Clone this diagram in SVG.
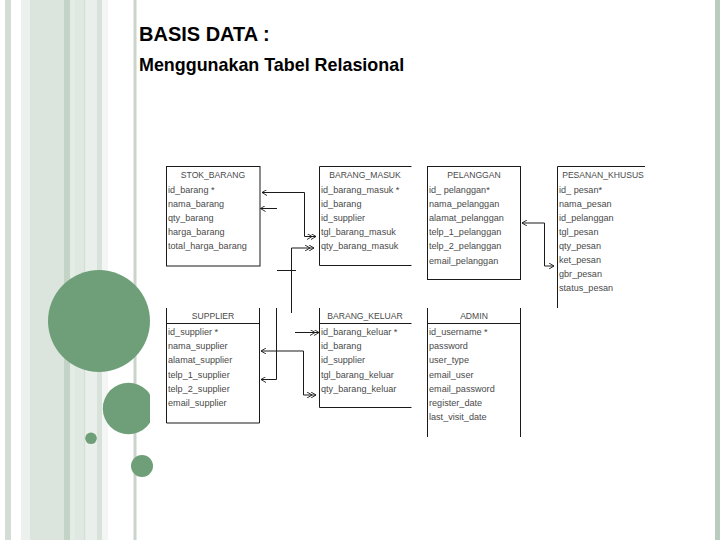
<svg xmlns="http://www.w3.org/2000/svg" width="720" height="540" viewBox="0 0 720 540">
<style>
.title{font-family:"Liberation Sans",Arial,sans-serif;font-weight:bold;fill:#000}
.hd{font-family:"Liberation Sans",Arial,sans-serif;font-size:8.6px;fill:#4a4a4a;text-anchor:middle}
.rw{font-family:"Liberation Sans",Arial,sans-serif;font-size:9.1px;fill:#4a4a4a}
.box{fill:none;stroke:#1a1a1a;stroke-width:1}
.con{fill:none;stroke:#1a1a1a;stroke-width:1}
.dot{fill:#6f9f78}
</style>
<defs>
<marker id="chev" viewBox="0 0 6 6" refX="5" refY="3" markerWidth="6" markerHeight="6" markerUnits="userSpaceOnUse" orient="auto-start-reverse">
<path d="M0,0 L5,3 L0,6" fill="none" stroke="#1a1a1a" stroke-width="0.9"/>
</marker>
<marker id="dchev" viewBox="0 0 10 6" refX="9" refY="3" markerWidth="10" markerHeight="6" markerUnits="userSpaceOnUse" orient="auto-start-reverse">
<path d="M0,0 L5,3 L0,6 M4,0 L9,3 L4,6" fill="none" stroke="#1a1a1a" stroke-width="0.9"/>
</marker>
<clipPath id="clipL"><rect x="0" y="0" width="150" height="540"/></clipPath>
</defs>
<rect x="0" y="0" width="720" height="540" fill="#fff"/>
<g id="background">
<rect x="5" y="0" width="6" height="540" fill="#d3ddd5"/>
<rect x="21" y="0" width="9" height="540" fill="#ecf1ed"/>
<rect x="30" y="0" width="34" height="540" fill="#dbe5dd"/>
<rect x="64" y="0" width="6" height="540" fill="#c3d4c6"/>
<rect x="70" y="0" width="5" height="540" fill="#e4ece6"/>
<rect x="75" y="0" width="10" height="540" fill="#dfe8e1"/>
<rect x="84.5" y="0" width="1" height="540" fill="#c9d4cb"/>
<rect x="85.5" y="0" width="11.5" height="540" fill="#e9efea"/>
<rect x="97" y="0" width="5" height="540" fill="#d8e2da"/>
<rect x="102" y="0" width="6" height="540" fill="#f3f6f4"/>
<rect x="133.5" y="0" width="3" height="540" fill="#cbd3cd"/>
<rect x="715" y="0" width="5" height="540" fill="#b9cdbf"/>
<circle class="dot" cx="99" cy="321" r="51"/>
<circle class="dot" cx="128.5" cy="408.5" r="25.7" clip-path="url(#clipL)"/>
<circle class="dot" cx="91" cy="438.3" r="5.8"/>
<circle class="dot" cx="142" cy="466" r="11"/>
</g>
<g id="titles">
<text class="title" x="139" y="41" font-size="20">BASIS DATA :</text>
<text class="title" x="139" y="70.5" font-size="17.9">Menggunakan Tabel Relasional</text>
</g>
<g id="stok_barang">
<rect class="box" x="166.5" y="166.5" width="93.5" height="99.5"/>
<text class="hd" x="213" y="178">STOK_BARANG</text>
<text class="rw" x="168" y="192.5">id_barang *</text>
<text class="rw" x="168" y="206.7">nama_barang</text>
<text class="rw" x="168" y="220.9">qty_barang</text>
<text class="rw" x="168" y="235.1">harga_barang</text>
<text class="rw" x="168" y="249.3">total_harga_barang</text>
</g>
<g id="barang_masuk">
<path class="box" d="M411.5,166.5 H319.5 V265.5 H411.5"/>
<text class="hd" x="365" y="178">BARANG_MASUK</text>
<text class="rw" x="321" y="192.5">id_barang_masuk *</text>
<text class="rw" x="321" y="206.7">id_barang</text>
<text class="rw" x="321" y="220.9">id_supplier</text>
<text class="rw" x="321" y="235.1">tgl_barang_masuk</text>
<text class="rw" x="321" y="249.3">qty_barang_masuk</text>
</g>
<g id="pelanggan">
<rect class="box" x="427.5" y="166.5" width="93" height="113"/>
<text class="hd" x="474" y="178">PELANGGAN</text>
<text class="rw" x="429" y="192.5">id_ pelanggan*</text>
<text class="rw" x="429" y="206.7">nama_pelanggan</text>
<text class="rw" x="429" y="220.9">alamat_pelanggan</text>
<text class="rw" x="429" y="235.1">telp_1_pelanggan</text>
<text class="rw" x="429" y="249.3">telp_2_pelanggan</text>
<text class="rw" x="429" y="263.5">email_pelanggan</text>
</g>
<g id="pesanan_khusus">
<path class="box" d="M645,166.5 H557.5 V308"/>
<text class="hd" x="603" y="178">PESANAN_KHUSUS</text>
<text class="rw" x="559" y="192.5">id_ pesan*</text>
<text class="rw" x="559" y="206.5">nama_pesan</text>
<text class="rw" x="559" y="220.5">id_pelanggan</text>
<text class="rw" x="559" y="234.5">tgl_pesan</text>
<text class="rw" x="559" y="248.5">qty_pesan</text>
<text class="rw" x="559" y="262.5">ket_pesan</text>
<text class="rw" x="559" y="276.5">gbr_pesan</text>
<text class="rw" x="559" y="290.5">status_pesan</text>
</g>
<g id="supplier">
<path class="box" d="M166.5,308 V423 H259.5 V308 M166.5,323.5 H259.5"/>
<text class="hd" x="213" y="318.5">SUPPLIER</text>
<text class="rw" x="168" y="335">id_supplier *</text>
<text class="rw" x="168" y="349.2">nama_supplier</text>
<text class="rw" x="168" y="363.4">alamat_supplier</text>
<text class="rw" x="168" y="377.6">telp_1_supplier</text>
<text class="rw" x="168" y="391.8">telp_2_supplier</text>
<text class="rw" x="168" y="406">email_supplier</text>
</g>
<g id="barang_keluar">
<path class="box" d="M319.5,308 V407.5 H411.5 M319.5,323.5 H411.5"/>
<text class="hd" x="365" y="318.5">BARANG_KELUAR</text>
<text class="rw" x="321" y="335">id_barang_keluar *</text>
<text class="rw" x="321" y="349.2">id_barang</text>
<text class="rw" x="321" y="363.4">id_supplier</text>
<text class="rw" x="321" y="377.6">tgl_barang_keluar</text>
<text class="rw" x="321" y="391.8">qty_barang_keluar</text>
</g>
<g id="admin">
<path class="box" d="M427.5,308 V437 M520.5,308 V437 M427.5,323.5 H520.5"/>
<text class="hd" x="474" y="318.5">ADMIN</text>
<text class="rw" x="429" y="335">id_username *</text>
<text class="rw" x="429" y="349.2">password</text>
<text class="rw" x="429" y="363.4">user_type</text>
<text class="rw" x="429" y="377.6">email_user</text>
<text class="rw" x="429" y="391.8">email_password</text>
<text class="rw" x="429" y="406">register_date</text>
<text class="rw" x="429" y="420.2">last_visit_date</text>
</g>
<g id="connectors">
<path class="con" d="M262,192.5 H304.5 V236.5 H316" marker-start="url(#chev)" marker-end="url(#dchev)"/>
<path class="con" d="M277,208.5 H260.5" marker-end="url(#chev)"/>
<path class="con" d="M291.5,313 V248 H314" marker-end="url(#dchev)"/>
<path class="con" d="M277,270.5 H296"/>
<path class="con" d="M276.5,308 V379.5 H261" marker-end="url(#chev)"/>
<path class="con" d="M261,351 H303.5 V395 H316" marker-start="url(#chev)" marker-end="url(#dchev)"/>
<path class="con" d="M295,332.5 H319" marker-end="url(#dchev)"/>
<path class="con" d="M522,223 H544.5 V266 H554" marker-start="url(#chev)" marker-end="url(#chev)"/>
</g>
</svg>
